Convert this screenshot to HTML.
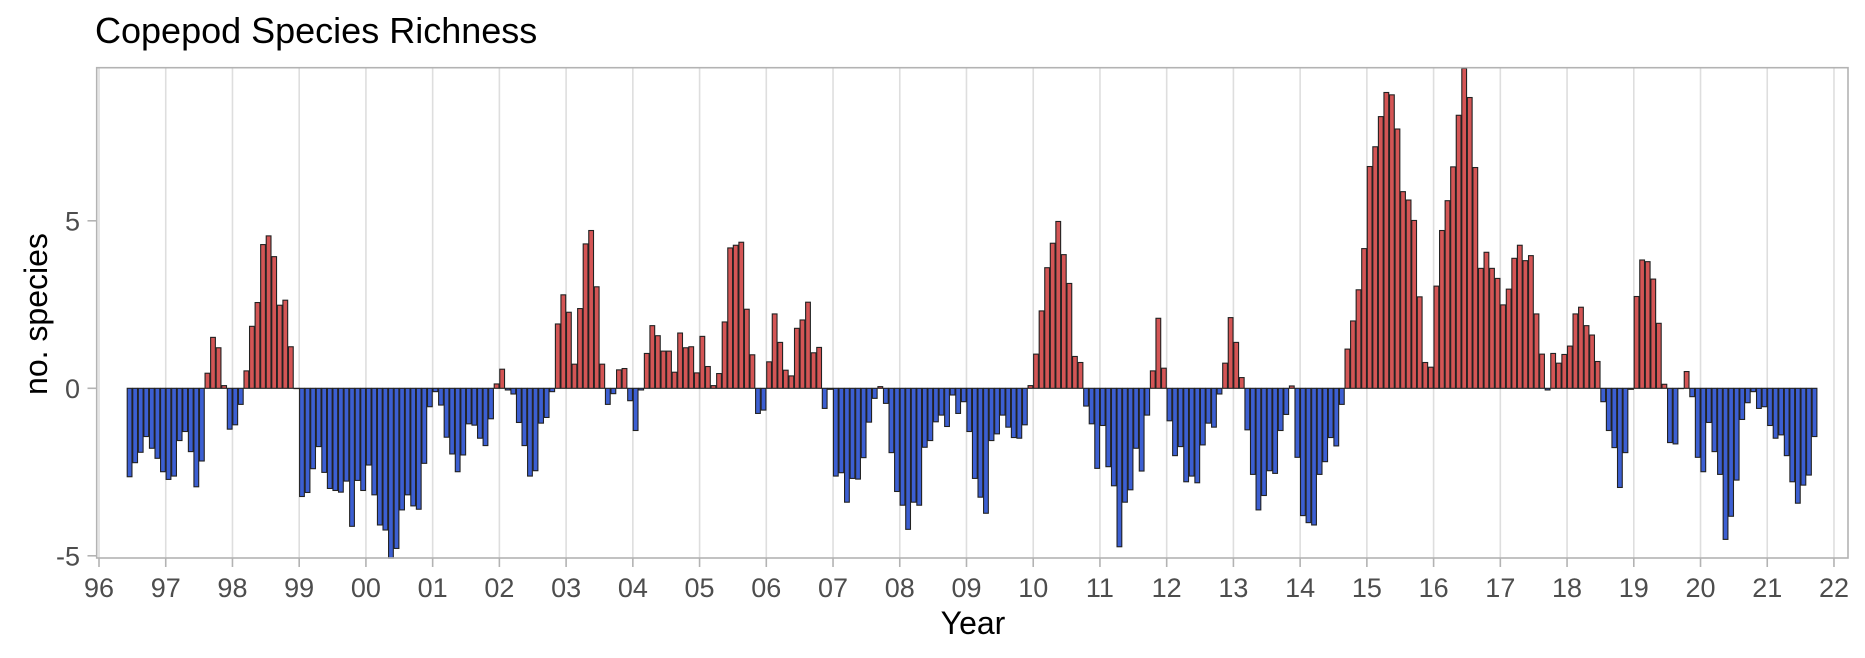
<!DOCTYPE html>
<html><head><meta charset="utf-8"><style>
html,body{margin:0;padding:0;background:#fff;}
svg{display:block;font-family:"Liberation Sans",sans-serif;}
</style></head><body>
<svg id="c" width="1865" height="658" viewBox="0 0 1865 658" xmlns="http://www.w3.org/2000/svg">
<rect x="0" y="0" width="1865" height="658" fill="#fff"/>
<g id="grid"></g>
<g id="bars"></g>
<rect x="96.7" y="67.7" width="1751.3" height="490.3" fill="none" stroke="#b3b3b3" stroke-width="1.6"/>
<g id="ticks" stroke="#b3b3b3" stroke-width="1.6"></g>
<g id="labels" fill="#4d4d4d" font-size="27"></g>
<text x="95" y="43" font-size="36" fill="#000">Copepod Species Richness</text>
<text x="973" y="634" font-size="32" fill="#000" text-anchor="middle">Year</text>
<text transform="translate(47,314) rotate(-90)" font-size="32" fill="#000" text-anchor="middle">no. species</text>
</svg>
<script>
(function(){
var d=[
-2.64,-2.22,-1.91,-1.44,-1.79,-2.09,-2.49,
-2.72,-2.62,-1.56,-1.29,-1.89,-2.94,-2.17,0.45,1.52,1.21,0.08,-1.22,
-1.09,-0.48,0.52,1.85,2.56,4.29,4.55,3.93,2.48,2.63,1.24,0,
-3.23,-3.11,-2.40,-1.74,-2.51,-2.99,-3.05,-3.10,-2.77,-4.12,-2.75,-3.05,
-2.29,-3.18,-4.08,-4.23,-5.07,-4.78,-3.63,-3.18,-3.51,-3.61,-2.24,-0.55,
-0.1,-0.5,-1.46,-1.96,-2.49,-1.99,-1.06,-1.1,-1.49,-1.71,-0.91,0.13,
0.57,-0.05,-0.17,-1.02,-1.71,-2.62,-2.46,-1.04,-0.87,-0.1,1.92,2.79,
2.27,0.72,2.38,4.31,4.71,3.03,0.72,-0.48,-0.16,0.55,0.59,-0.37,
-1.26,-0.05,1.04,1.87,1.57,1.11,1.11,0.48,1.65,1.21,1.24,0.46,
1.55,0.65,0.08,0.44,1.98,4.19,4.27,4.36,2.36,1.0,-0.75,-0.65,
0.79,2.22,1.37,0.54,0.37,1.79,2.04,2.57,1.06,1.22,-0.6,-0.03,
-2.62,-2.52,-3.4,-2.69,-2.71,-2.07,-1.01,-0.3,0.05,-0.45,-1.92,-3.08,
-3.49,-4.21,-3.4,-3.49,-1.76,-1.56,-1.0,-0.8,-1.14,-0.2,-0.75,-0.4,
-1.29,-2.69,-3.25,-3.73,-1.56,-1.36,-0.8,-1.16,-1.47,-1.49,-1.09,0.08,
1.02,2.31,3.6,4.33,4.98,3.99,3.13,0.95,0.77,-0.53,-1.06,-2.39,
-1.11,-2.34,-2.91,-4.73,-3.4,-3.03,-1.79,-2.47,-0.8,0.52,2.09,0.6,
-0.97,-2.01,-1.74,-2.79,-2.62,-2.82,-1.69,-1.04,-1.16,-0.17,0.75,2.11,
1.37,0.32,-1.24,-2.57,-3.63,-3.2,-2.46,-2.54,-1.26,-0.78,0.07,-2.06,
-3.8,-4.01,-4.08,-2.57,-2.19,-1.47,-1.72,-0.48,1.17,2.01,2.94,4.17,
6.62,7.21,8.11,8.83,8.76,7.74,5.87,5.62,5.01,2.73,0.77,0.63,
3.05,4.71,5.6,6.61,8.15,9.55,8.68,6.59,3.58,4.06,3.58,3.28,
2.49,2.96,3.88,4.27,3.81,3.96,2.22,1.02,-0.05,1.04,0.75,1.01,
1.26,2.22,2.42,1.87,1.59,0.8,-0.4,-1.26,-1.77,-2.96,-1.92,-0.03,
2.74,3.83,3.78,3.26,1.94,0.12,-1.62,-1.66,0,0.5,-0.25,-2.06,
-2.49,-1.02,-1.89,-2.57,-4.51,-3.82,-2.74,-0.93,-0.43,-0.1,-0.6,-0.55,
-1.11,-1.49,-1.39,-2.01,-2.79,-3.43,-2.89,-2.59,-1.44];
var NS="http://www.w3.org/2000/svg";
function el(t,a,p){var e=document.createElementNS(NS,t);for(var k in a)e.setAttribute(k,a[k]);p.appendChild(e);return e;}
var X0=99,YS=66.73,Z=388.3,U=33.5,ptop=67.7,pbot=558;
function X(y){return X0+YS*(y-1996);}
var g=document.getElementById('grid'),b=document.getElementById('bars'),tk=document.getElementById('ticks'),lb=document.getElementById('labels');
for(var y=1996;y<=2022;y++){
 var x=X(y);
 el('line',{x1:x,x2:x,y1:ptop,y2:pbot,stroke:'#dedede','stroke-width':1.6},g);
 el('line',{x1:x,x2:x,y1:pbot,y2:pbot+9},tk);
 var t=el('text',{x:x,y:597,'text-anchor':'middle'},lb);t.textContent=String(y%100).padStart(2,'0');
}
[5,0,-5].forEach(function(v){var yy=Z-v*U;
 el('line',{x1:87.5,x2:96.7,y1:yy,y2:yy},tk);
 var t=el('text',{x:80,y:yy+9.5,'text-anchor':'end'},lb);t.textContent=v==-5?'-5':String(v);});
var w=YS/12;
d.forEach(function(v,i){
 var x=X(1996+(5+i)/12);
 var y1=Z-Math.max(v,0)*U,h=Math.abs(v)*U;
 el('rect',{x:x+0.4,y:y1,width:w-0.8,height:Math.max(h,0.3),fill:v>=0?'#d45555':'#3c5fd2',stroke:'#222','stroke-width':1.1},b);
});
})();
</script>
</body></html>
